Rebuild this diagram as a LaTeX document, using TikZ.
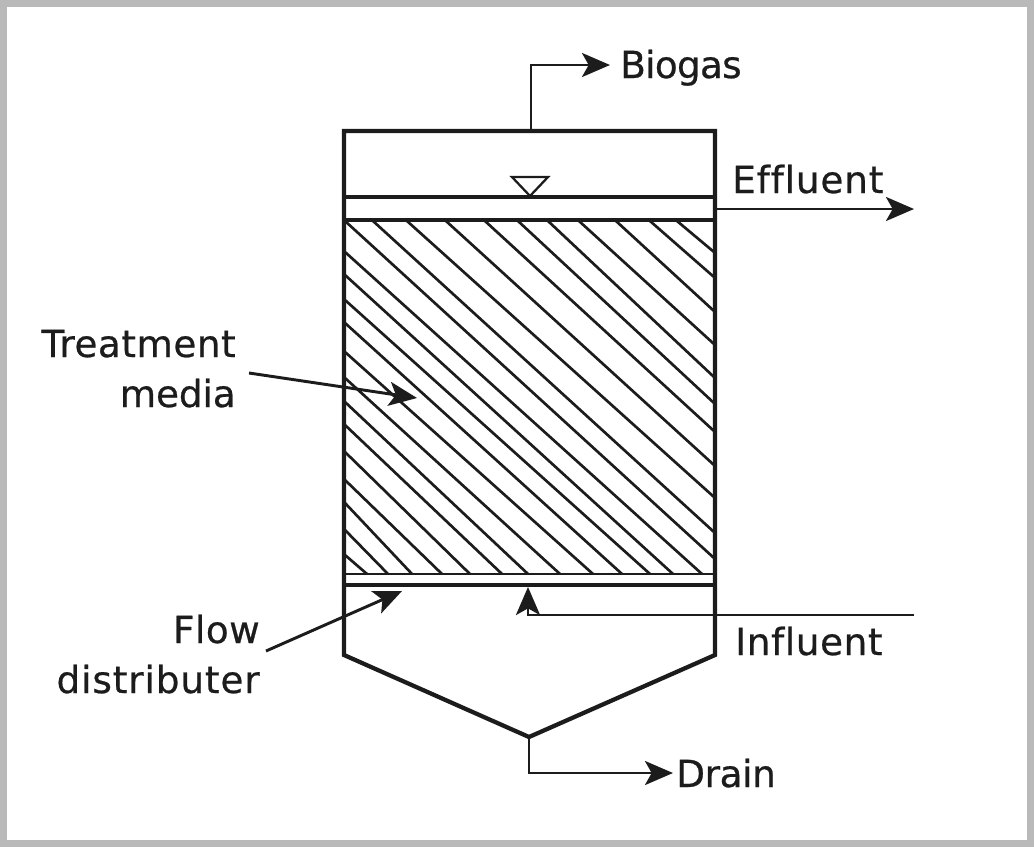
\documentclass[tikz,border=0pt]{standalone}
\usepackage{fontspec}
\setmainfont[Ligatures=NoCommon]{DejaVu Sans}
\usetikzlibrary{arrows.meta}
\definecolor{frameGray}{HTML}{B9B9B9}
\definecolor{ink}{HTML}{1C1C1C}
\newcommand{\spacedword}[2]{{\addfontfeature{LetterSpace=#1,FakeBold=0.6}#2}}
\tikzset{
  wall/.style={draw=ink,line width=3.2pt,line join=miter},
  thinwall/.style={draw=ink,line width=2.2pt},
  hatchline/.style={draw=ink,line width=2pt},
  flow/.style={draw=ink,line width=2.2pt,-{Stealth[length=21pt,width=18pt,inset=5pt]}},
  label/.style={font=\fontsize{28pt}{37.5pt}\selectfont,text=ink,inner sep=0pt},
}
\begin{document}
\begin{tikzpicture}[x=0.75pt,y=-0.75pt]
\useasboundingbox (0,0) rectangle (1034,847);
\fill[frameGray] (0,0) rectangle (1034,847);
\fill[white] (7,7) rectangle (1027,840);
% hatching: top edge to right wall
\foreach \a/\b in {373/532,407/497,446/465,485/431,518/403,548/377,579/344,616/311,650/277,677/252}
  \draw[hatchline] (\a,221) -- (714,\b);
\draw[hatchline] (345,221) -- (714,558);
% hatching: left wall to bottom line
\foreach \a/\b in {252/702,275/673,300/650,323/622,352/593,378/560,402/528,425/502,452/470,480/442,503/412,530/388,555/367}
  \draw[hatchline] (345,\a) -- (\b,574);
% vessel
\coordinate (tl) at (344,131);
\coordinate (tr) at (715,131);
\coordinate (kl) at (344,655);
\coordinate (kr) at (715,655);
\coordinate (apex) at (529,737);
\draw[wall] (tl) -- (tr) -- (kr) -- (apex) -- (kl) -- cycle;
\draw[wall] (344,197) -- (715,197);
\draw[wall] (344,220) -- (715,220);
\draw[thinwall] (344,574) -- (715,574);
\draw[wall] (344,585) -- (715,585);
\draw[draw=ink,line width=1.7pt] (512,177) -- (548,177) -- (530,196) -- cycle;
% labels
\node[label,anchor=base west] (biogas) at (620,78) {\spacedword{-1.9}{Biogas}};
\node[label,anchor=base west] (effluent) at (732,193) {\spacedword{2.3}{Effluent}};
\node[label,anchor=base west] (influent) at (735,655) {\spacedword{1.6}{Influent}};
\node[label,anchor=base west] (drain) at (676,787) {\spacedword{-1}{Drain}};
\node[label,anchor=base east,align=right] (media) at (236,407) {\spacedword{1.4}{Treatment}\\\spacedword{-0.2}{media}};
\node[label,anchor=base east,align=right] (distrib) at (260,693) {\spacedword{1.3}{Flow}\\\spacedword{2.4}{distributer}};
% connectors
\coordinate (gasOut) at (531,131);
\coordinate (gasTip) at (610,65);
\draw[flow] (gasOut) |- (gasTip);
\coordinate (effIn) at (715,209);
\coordinate (effTip) at (914,209);
\draw[flow] (effIn) -- (effTip);
\coordinate (infIn) at (914,615);
\coordinate (infTip) at (528,587);
\draw[flow] (infIn) -| (infTip);
\coordinate (drainTip) at (673,773);
\draw[flow] (apex) |- (drainTip);
\coordinate (mediaFrom) at (249,373);
\coordinate (mediaTip) at (417,398);
\draw[flow] (mediaFrom) -- (mediaTip);
\coordinate (distFrom) at (266,651);
\coordinate (distTip) at (402,591);
\draw[flow] (distFrom) -- (distTip);
\end{tikzpicture}
\end{document}
